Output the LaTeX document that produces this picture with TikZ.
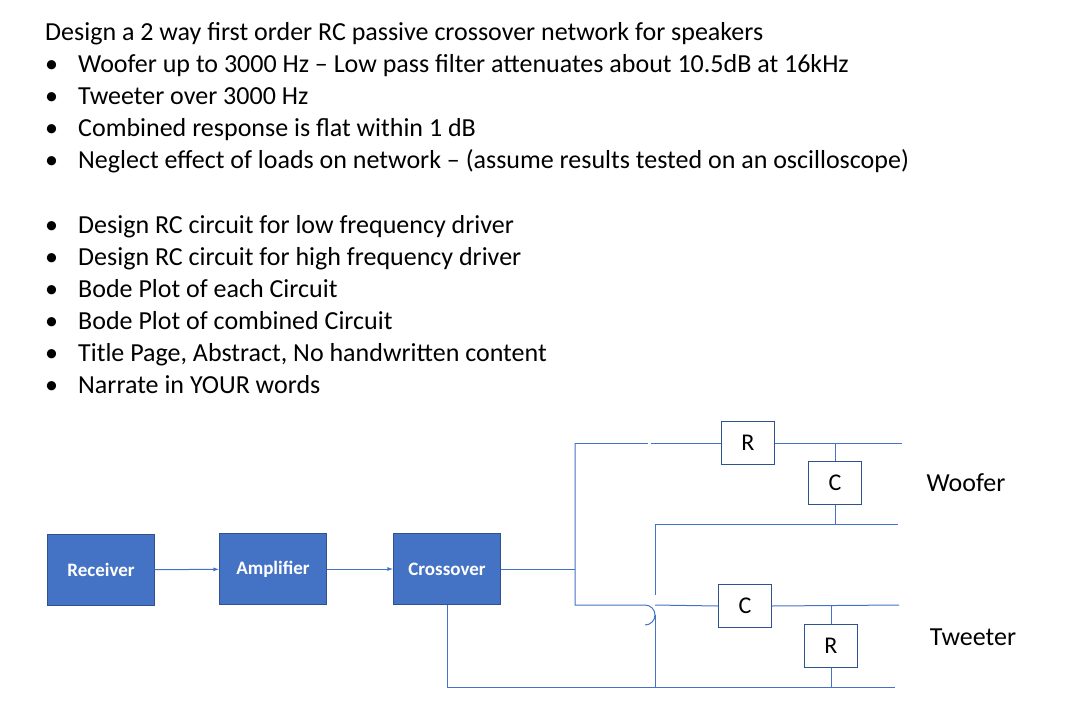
\documentclass[tikz,border=0pt]{standalone}
\usepackage{fontspec}
\setmainfont{Carlito}
\usetikzlibrary{arrows.meta}
\definecolor{blk}{HTML}{4472C4}
\definecolor{edge}{HTML}{2F528F}
\tikzset{
  blockbox/.style={rectangle,draw=edge,fill=blk,text=white,minimum width=107pt,minimum height=71pt,font=\fontsize{19}{22}\selectfont\bfseries,inner sep=0pt},
  part/.style={rectangle,draw=edge,fill=white,minimum width=53pt,minimum height=43pt,font=\fontsize{24}{26}\selectfont,inner sep=0pt},
  wire/.style={draw=blk,line width=1pt},
  txt/.style={anchor=base west,inner sep=0pt,font=\fontsize{26}{28}\selectfont}
}
\begin{document}
\begin{tikzpicture}[x=1pt,y=-1pt]
\useasboundingbox (0,0) rectangle (1086,712);
% text
\node[txt] (h) at (45,40) {Design a 2 way first order RC passive crossover network for speakers};
\foreach \t [count=\i] in {Woofer up to 3000 Hz -- Low pass filter attenuates about 10.5dB at 16kHz,
  Tweeter over 3000 Hz, Combined response is flat within 1 dB,
  Neglect effect of loads on network -- (assume results tested on an oscilloscope)}
  {\node[txt] (b\i) at (78,40+32*\i) {\t};
   \node[txt] (d\i) at (45,40+32*\i) {\textbullet};}
\foreach \t [count=\i] in {Design RC circuit for low frequency driver,
  Design RC circuit for high frequency driver, Bode Plot of each Circuit,
  Bode Plot of combined Circuit, {Title Page, Abstract, No handwritten content},
  Narrate in YOUR words}
  {\node[txt] (c\i) at (78,201+32*\i) {\t};
   \node[txt] (e\i) at (45,201+32*\i) {\textbullet};}
% blocks
\node[blockbox] (rec) at (101,570) {Receiver};
\node[blockbox] (amp) at (273,569) {Amplifier};
\node[blockbox] (cro) at (447,569) {Crossover};
\draw[wire,-{Latex[length=6pt,width=4pt]}] (rec) -- (amp);
\draw[wire,-{Latex[length=6pt,width=4pt]}] (amp) -- (cro);
% parts
\node[part] (r1) at (748,443) {R};
\node[part] (c1) at (835,483) {C};
\node[part] (c2) at (745,606) {C};
\node[part] (r2) at (831,646) {R};
\node[font=\fontsize{26}{28}\selectfont] (wl) at (966,483) {Woofer};
\node[font=\fontsize{26}{28}\selectfont] (tl) at (973,637) {Tweeter};
% wiring
\coordinate (t1) at (575,569);
\draw[wire] (cro.east) -- (t1);
\draw[wire] (575,443) -- (575,605) -- (645,605) arc[start angle=90,end angle=-90,radius=10pt] ;
\draw[wire] (575,443) -- (648,443);
\draw[wire] (651,443) -- (r1.west);
\draw[wire] (r1.east) -- (902,443);
\draw[wire] (835,443) -- (c1.north);
\draw[wire] (c1.south) -- (835,524);
\draw[wire] (655,524) -- (898,524);
\draw[wire] (655,524) -- (655,595);
\draw[wire] (655,615) -- (655,687);
\draw[wire] (655,605) -- (c2.west);
\draw[wire] (c2.east) -- (899,605);
\draw[wire] (831,605) -- (r2.north);
\draw[wire] (r2.south) -- (831,687);
\draw[wire] (cro.south) -- (447,687) -- (895,687);
\end{tikzpicture}
\end{document}
